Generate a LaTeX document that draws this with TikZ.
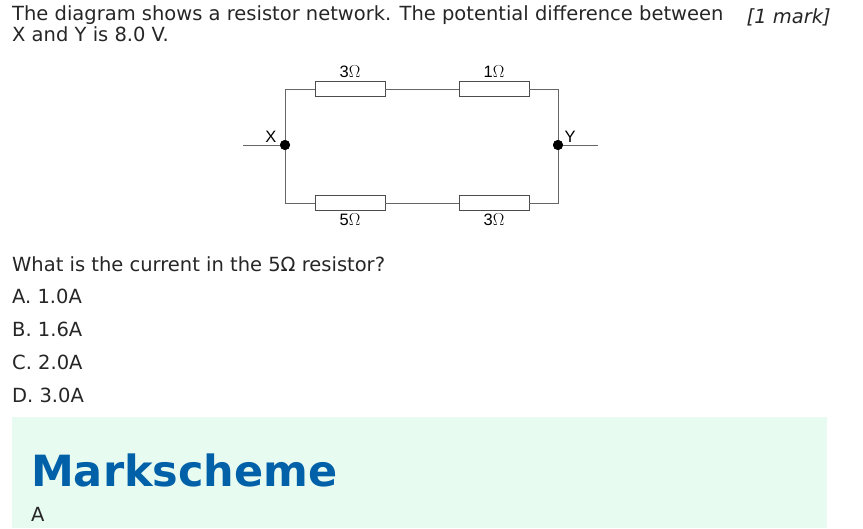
\documentclass[tikz,border=0pt]{standalone}
\usepackage{fontspec}
\setmainfont{DejaVu Sans}
\newfontfamily\arial{Liberation Sans}
\begin{document}
\begin{tikzpicture}[x=1pt,y=-1pt,
  txt/.style={anchor=west,inner sep=0pt,font=\fontsize{19.5}{21}\selectfont,text=black!85},
  res/.style={draw=black!70,fill=white,minimum width=70pt,minimum height=15pt,inner sep=0pt},
  wire/.style={draw=black!60,line width=0.8pt},
  lab/.style={inner sep=0pt,font=\arial\fontsize{16.5}{16}\selectfont},
  dot/.style={circle,fill=black,inner sep=0pt,minimum size=10pt}]
\useasboundingbox (0,0) rectangle (863,528);
\node[txt,align=left,anchor=north west] (q) at (12,5) {The diagram shows a resistor network. The potential difference between\\X and Y is 8.0 V.};
\node[txt,anchor=east] (mk) at (831,17) {\itshape [1 mark]};
% circuit
\coordinate (tl) at (285,89); \coordinate (tr) at (558,89);
\coordinate (bl) at (285,203); \coordinate (br) at (558,203);
\node[dot] (X) at (285,145) {};
\node[dot] (Y) at (558,145) {};
\coordinate (xl) at (243,145); \coordinate (yr) at (598,145);
\node[res] (r1) at (350,89) {};
\node[res] (r2) at (494,89) {};
\node[res] (r3) at (350,203) {};
\node[res] (r4) at (494,203) {};
\draw[wire] (xl) -- (X.center) -- (tl) -- (r1.west);
\draw[wire] (r1.east) -- (r2.west);
\draw[wire] (r2.east) -- (tr) -- (Y.center) -- (yr);
\draw[wire] (X.center) -- (bl) -- (r3.west);
\draw[wire] (r3.east) -- (r4.west);
\draw[wire] (r4.east) -- (br) -- (Y.center);
\node[dot] at (X) {}; \node[dot] at (Y) {};
\node[lab] (l1) at (350,72) {3$\Omega$};
\node[lab] (l2) at (494,72) {1$\Omega$};
\node[lab] (l3) at (350,220) {5$\Omega$};
\node[lab] (l4) at (494,220) {3$\Omega$};
\node[lab] (lx) at (271,137) {X};
\node[lab] (ly) at (570,137) {Y};
% question
\node[txt] (qq) at (12,264) {What is the current in the 5\symbol{"03A9} resistor?};
\node[txt] (a) at (12,296) {A. 1.0A};
\node[txt] (b) at (12,329) {B. 1.6A};
\node[txt] (c) at (12,362) {C. 2.0A};
\node[txt] (d) at (12,395) {D. 3.0A};
% markscheme
\fill[fill={rgb,255:red,232;green,251;blue,240}] (12,417) rectangle (827,528);
\node[anchor=west,inner sep=0pt,font=\bfseries\fontsize{43}{43}\selectfont,text={rgb,255:red,0;green,96;blue,168}] (ms) at (31,470) {Markscheme};
\node[txt] (ans) at (31,514) {A};
\end{tikzpicture}
\end{document}
